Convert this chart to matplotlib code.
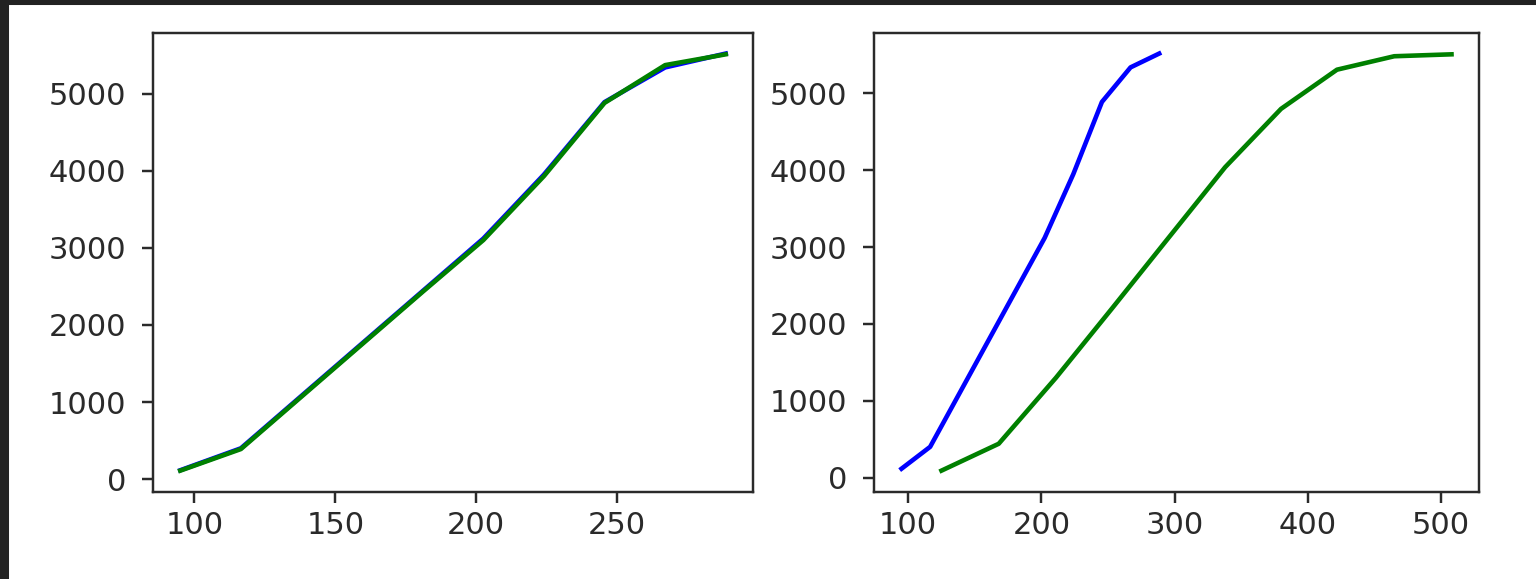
import numpy as np
import matplotlib
matplotlib.use('Agg')
import matplotlib.pyplot as plt
from matplotlib.patches import Rectangle

# values
x_blue = [95, 116.5, 138, 159.5, 181, 202.5, 224, 245.5, 267, 288.5]
y_blue = [115, 400, 1080, 1760, 2440, 3120, 3950, 4890, 5340, 5520]

# green on the left sits on top of the blue line
y_green_left = [110, 390, 1070, 1750, 2430, 3100, 3930, 4880, 5370, 5510]

# green on the right is stretched out in x
x_green_right = [125, 168, 211, 253, 295, 338, 380, 422, 465, 508]
y_green_right = [90, 440, 1300, 2200, 3110, 4040, 4800, 5310, 5485, 5510]

dpi = 220
fig = plt.figure(figsize=(1536 / dpi, 579 / dpi), dpi=dpi)

ax1 = fig.add_axes([153 / 1536, 1 - 491.5 / 579, 600 / 1536, 458.8 / 579])
ax2 = fig.add_axes([874 / 1536, 1 - 491.5 / 579, 605 / 1536, 458.8 / 579])

ax1.plot(x_blue, y_blue, 'b')
ax1.plot(x_blue, y_green_left, 'g')

ax2.plot(x_blue, y_blue, 'b')
ax2.plot(x_green_right, y_green_right, 'g')

for ax in (ax1, ax2):
    ax.tick_params(colors='#2a2a2a', labelcolor='#2a2a2a')
    ax.tick_params(axis='y', pad=5.3)
    ax.tick_params(axis='x', pad=3)
    for s in ax.spines.values():
        s.set_color('#2a2a2a')

# dark frame of the screenshot, left and top
fig.patches.append(Rectangle((0, 0), 7 / 1536, 1, transform=fig.transFigure,
                             color='#222222', zorder=0))
fig.patches.append(Rectangle((0, 1 - 3 / 579), 1, 3 / 579, transform=fig.transFigure,
                             color='#222222', zorder=0))

plt.savefig('out.png', dpi=dpi)
